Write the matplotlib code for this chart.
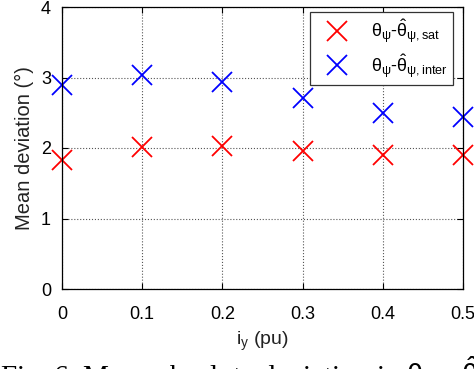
import matplotlib
matplotlib.use("Agg")
import matplotlib.pyplot as plt

# values
iy = [0.0, 0.1, 0.2, 0.3, 0.4, 0.5]
dev_sat = [1.83, 2.01, 2.03, 1.96, 1.90, 1.90]
dev_inter = [2.89, 3.03, 2.93, 2.71, 2.50, 2.44]
xticks = [0, 0.1, 0.2, 0.3, 0.4, 0.5]
yticks = [0, 1, 2, 3, 4]

plt.rcParams["font.family"] = ["Liberation Sans", "DejaVu Sans"]
plt.rcParams["mathtext.fontset"] = "custom"
plt.rcParams["mathtext.rm"] = "Liberation Sans"
plt.rcParams["mathtext.it"] = "Liberation Sans"
plt.rcParams["mathtext.bf"] = "Liberation Sans:bold"

W, H = 474, 369
fig = plt.figure(figsize=(W / 100, H / 100), dpi=100)
ax = fig.add_axes([62 / W, (H - 289) / H, (463 - 62) / W, (289 - 7) / H])

ax.plot(iy, dev_sat, "x", color="#ff0000", ms=14, mew=1.3, clip_on=False,
        label=r"$\theta_\psi$-$\hat{\theta}_{\psi,\mathrm{sat}}$")
ax.plot(iy, dev_inter, "x", color="#0000ff", ms=14, mew=1.3, clip_on=False,
        label=r"$\theta_\psi$-$\hat{\theta}_{\psi,\mathrm{inter}}$")

ax.set_xlim(0, 0.5)
ax.set_ylim(0, 4)
ax.set_xticks(xticks)
ax.set_xticklabels(["0", "0.1", "0.2", "0.3", "0.4", "0.5"])
ax.set_yticks(yticks)
ax.tick_params(direction="in", top=True, right=True, labelsize=13, length=4)
ax.tick_params(axis="x", pad=12)
ax.tick_params(axis="y", pad=8)
ax.grid(True, linestyle=":", color="#555555", linewidth=0.8)
for s in ax.spines.values():
    s.set_linewidth(0.9)

ax.set_xlabel(r"i$_\mathrm{y}$ (pu)", fontsize=14, color="#222222", labelpad=5)
ax.set_ylabel("Mean deviation (°)", fontsize=14.5, color="#222222", labelpad=5)

leg = ax.legend(loc="upper right", fontsize=13, fancybox=False, framealpha=1,
                edgecolor="#333333", borderaxespad=0.0, handletextpad=0.7,
                handlelength=2.4, labelspacing=0.35, borderpad=0.3,
                bbox_to_anchor=(0.976, 0.982))
leg.get_frame().set_linewidth(0.9)

# caption of the paper, cut by the bottom edge as in the reference
fig.text(0.0, (H - 386) / H, r"Fig. 6. Mean absolute deviation in $\theta_\psi$ - $\hat{\theta}$",
         family="Liberation Serif", fontsize=21, va="baseline", ha="left")

fig.savefig("out.png", dpi=100)
